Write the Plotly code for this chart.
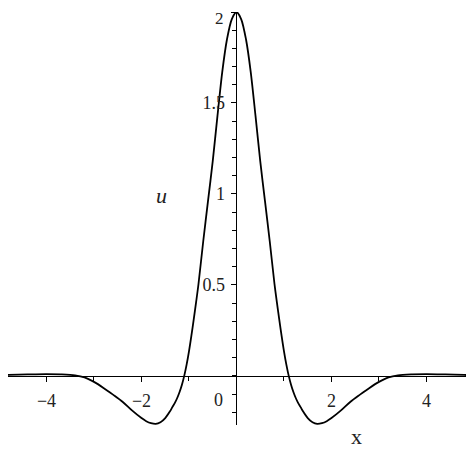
import plotly.graph_objects as go

# points (right half, the curve is symmetric)
x_right = [0.0, 0.1, 0.2, 0.3, 0.4, 0.5, 0.6, 0.7, 0.8, 0.85,
           0.9, 0.95, 1.0, 1.05, 1.1, 1.15, 1.2, 1.25, 1.3, 1.35,
           1.4, 1.5, 1.6, 1.7, 1.8, 1.9, 2.0, 2.2, 2.4, 2.6,
           2.8, 3.0, 3.2, 3.4, 3.7, 4.0, 4.4, 4.8, 5.0]
u_right = [2.00, 1.96, 1.85, 1.67, 1.43, 1.18, 0.96, 0.74, 0.505, 0.405,
           0.31, 0.22, 0.135, 0.062, 0.00, -0.05, -0.09, -0.123, -0.15, -0.172,
           -0.195, -0.232, -0.255, -0.264, -0.26, -0.249, -0.232, -0.19, -0.142, -0.103,
           -0.066, -0.033, -0.008, 0.003, 0.008, 0.010, 0.008, 0.005, 0.004]

x_vals = [-v for v in x_right[:0:-1]] + x_right
u_vals = u_right[:0:-1] + u_right

x_major = [-4, -2, 2, 4]
y_major = [0.5, 1, 1.5, 2]
# the top label is drawn as an annotation so it is not cut off at the edge
y_labels = ["0.5", "1", "1.5", ""]

FONT = "Liberation Serif"

fig = go.Figure()
fig.add_trace(go.Scatter(
    x=x_vals, y=u_vals, mode="lines",
    line=dict(color="black", width=1.8, shape="spline", smoothing=0.8),
    showlegend=False, hoverinfo="skip",
))

# page body has an 8px margin, so the figure starts at (8, 8)
x_range = [-4.81, 5.0]
y_range = [-0.27, 2.0]
y0_pos = (0 - y_range[0]) / (y_range[1] - y_range[0])
x0_pos = (0 - x_range[0]) / (x_range[1] - x_range[0])

fig.update_layout(
    width=466, height=444,
    margin=dict(l=0, r=0, t=4, b=27, autoexpand=False),
    paper_bgcolor="white", plot_bgcolor="white",
    font=dict(family=FONT, size=18, color="#222"),
    xaxis=dict(
        range=x_range, anchor="free", position=y0_pos, automargin=False,
        showgrid=False, zeroline=False,
        showline=True, linecolor="black", linewidth=1,
        tickmode="array", tickvals=x_major,
        ticks="outside", ticklen=5, tickcolor="black", tickwidth=1,
        ticklabelstandoff=4, ticklabeloverflow="allow",
        minor=dict(tickmode="linear", tick0=-5, dtick=1, ticks="outside",
                   ticklen=4, tickcolor="black"),
    ),
    yaxis=dict(
        range=y_range, anchor="free", position=x0_pos, automargin=False,
        showgrid=False, zeroline=False,
        showline=True, linecolor="black", linewidth=1,
        tickmode="array", tickvals=y_major, ticktext=y_labels,
        ticks="outside", ticklen=5, tickcolor="black", tickwidth=1,
        ticklabelstandoff=3, ticklabeloverflow="allow",
        minor=dict(tickmode="linear", tick0=0, dtick=0.1, ticks="outside",
                   ticklen=4, tickcolor="black"),
    ),
)

fig.add_annotation(x=-0.36, y=2.0, xref="x", yref="y", text="2",
                   xanchor="center", yanchor="middle", yshift=-6, borderpad=0,
                   showarrow=False, font=dict(family=FONT, size=17, color="#222"))
fig.add_annotation(x=-0.38, y=-0.13, xref="x", yref="y", text="0",
                   showarrow=False, font=dict(family=FONT, size=18, color="#222"))
fig.add_annotation(x=-1.58, y=0.99, xref="x", yref="y", text="<i>u</i>",
                   showarrow=False, font=dict(family=FONT, size=22, color="#222"))
fig.add_annotation(x=2.53, y=-0.029, xref="x", yref="paper", text="x",
                   xanchor="center", yanchor="middle",
                   showarrow=False, font=dict(family=FONT, size=22, color="#222"))

fig.write_html("out.html")
